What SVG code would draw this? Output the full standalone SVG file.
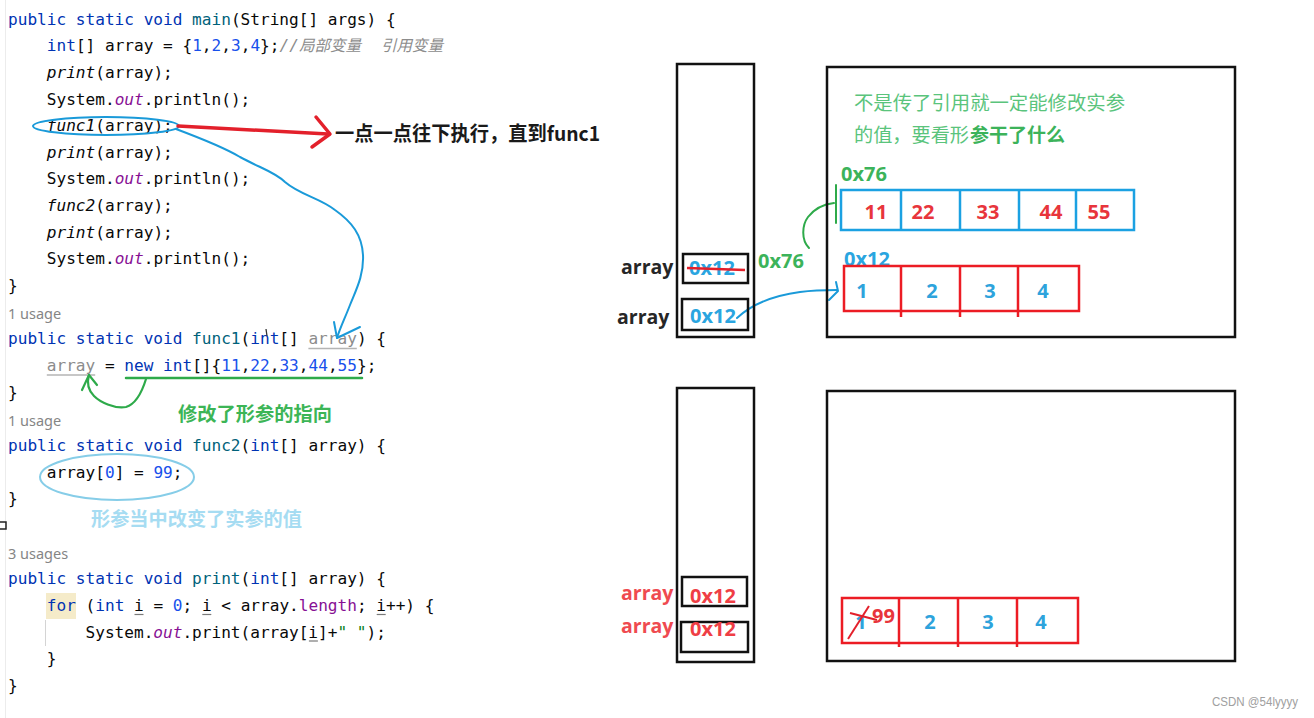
<svg xmlns="http://www.w3.org/2000/svg" width="1314" height="718" viewBox="0 0 1314 718">
<style>
.code{font-family:"DejaVu Sans Mono","Liberation Mono",monospace;font-size:16.1px;fill:#080808}
.kw{fill:#0033b3}
.fn{fill:#00627a}
.num{fill:#1750eb}
.it{font-style:italic}
.fld{fill:#871094;font-style:italic}
.len{fill:#871094}
.str{fill:#067d17}
.gr{fill:#8c8c8c}
.cm{fill:#8c8c8c;font-style:italic}
.cmc{font-family:"Noto Sans CJK SC",sans-serif;font-size:15.5px;fill:#8c8c8c;font-style:italic}
.hint{font-family:"Noto Sans",sans-serif;font-size:14.5px;fill:#858585}
.cjk{font-family:"Noto Sans CJK SC",sans-serif}
.lbl{font-family:"Open Sans","Noto Sans",sans-serif;font-weight:700}
.box{fill:none;stroke:#111;stroke-width:2.5}
.cb{fill:none;stroke:#1ba1e2;stroke-width:2.5}
.cr{fill:none;stroke:#ec1c24;stroke-width:2.5}
.ul{stroke:#b4b4b4;stroke-width:1.3}
.ui{stroke:#7a7a7a;stroke-width:1.2}
</style>
<rect width="1314" height="718" fill="#ffffff"/>
<g id="code">
<line x1="5.5" y1="0" x2="5.5" y2="718" stroke="#ececec" stroke-width="1"/>
<rect x="-2" y="522" width="8" height="7" fill="none" stroke="#222" stroke-width="1.5"/>
<rect x="46" y="593" width="30" height="26" fill="#f5ebc9"/>
<line x1="45.5" y1="620" x2="45.5" y2="646" stroke="#d4d4d4" stroke-width="1"/>
<text class="code" x="8" y="24.5"><tspan class="kw">public static void </tspan><tspan class="fn">main</tspan>(String[] args) {</text>
<text class="code" x="46.8" y="51.2"><tspan class="kw">int</tspan>[] array = {<tspan class="num">1</tspan>,<tspan class="num">2</tspan>,<tspan class="num">3</tspan>,<tspan class="num">4</tspan>};<tspan class="cm">//</tspan></text>
<text class="cmc" x="299" y="51.2">局部变量</text>
<text class="cmc" x="381" y="51.2">引用变量</text>
<text class="code" x="46.8" y="77.8"><tspan class="it">print</tspan>(array);</text>
<text class="code" x="46.8" y="104.5">System.<tspan class="fld">out</tspan>.println();</text>
<text class="code" x="46.8" y="131.1"><tspan class="it">func1</tspan>(array);</text>
<text class="code" x="46.8" y="157.8"><tspan class="it">print</tspan>(array);</text>
<text class="code" x="46.8" y="184.4">System.<tspan class="fld">out</tspan>.println();</text>
<text class="code" x="46.8" y="211.1"><tspan class="it">func2</tspan>(array);</text>
<text class="code" x="46.8" y="237.7"><tspan class="it">print</tspan>(array);</text>
<text class="code" x="46.8" y="264.4">System.<tspan class="fld">out</tspan>.println();</text>
<text class="code" x="8" y="291">}</text>
<text class="hint" x="8" y="319">1 usage</text>
<text class="code" x="8" y="344.3"><tspan class="kw">public static void </tspan><tspan class="fn">func1</tspan>(<tspan class="kw">int</tspan>[] <tspan class="gr">array</tspan>) {</text>
<line class="ul" x1="308.4" y1="348.5" x2="356.8" y2="348.5"/>
<text class="code" x="46.8" y="371"><tspan class="gr">array</tspan> = <tspan class="kw">new int</tspan>[]{<tspan class="num">11</tspan>,<tspan class="num">22</tspan>,<tspan class="num">33</tspan>,<tspan class="num">44</tspan>,<tspan class="num">55</tspan>};</text>
<line class="ul" x1="46.8" y1="375" x2="95.2" y2="375"/>
<text class="code" x="8" y="397.6">}</text>
<text class="hint" x="8" y="425.5">1 usage</text>
<text class="code" x="8" y="450.9"><tspan class="kw">public static void </tspan><tspan class="fn">func2</tspan>(<tspan class="kw">int</tspan>[] array) {</text>
<text class="code" x="46.8" y="477.6">array[<tspan class="num">0</tspan>] = <tspan class="num">99</tspan>;</text>
<text class="code" x="8" y="504.2">}</text>
<text class="hint" x="8" y="558.5">3 usages</text>
<text class="code" x="8" y="584.2"><tspan class="kw">public static void </tspan><tspan class="fn">print</tspan>(<tspan class="kw">int</tspan>[] array) {</text>
<text class="code" x="46.8" y="610.8"><tspan class="kw">for</tspan> (<tspan class="kw">int</tspan> i = <tspan class="num">0</tspan>; i &lt; array.<tspan class="len">length</tspan>; i++) {</text>
<line class="ui" x1="134.5" y1="614.5" x2="143.5" y2="614.5"/>
<line class="ui" x1="202.3" y1="614.5" x2="211.3" y2="614.5"/>
<line class="ui" x1="376.7" y1="614.5" x2="385.7" y2="614.5"/>
<text class="code" x="85.5" y="637.5">System.<tspan class="fld">out</tspan>.print(array[i]+<tspan class="str">" "</tspan>);</text>
<line class="ui" x1="308.9" y1="641" x2="317.9" y2="641"/>
<text class="code" x="46.8" y="664.1">}</text>
<text class="code" x="8" y="690.8">}</text>
</g>
<g id="annotations">
<ellipse cx="106" cy="126" rx="73" ry="9" fill="none" stroke="#1a9ad9" stroke-width="2"/>
<text class="cjk" x="335" y="141" font-size="20" font-weight="700" fill="#1a1a1a" textLength="265" lengthAdjust="spacingAndGlyphs">一点一点往下执行，直到func1</text>
<line x1="266" y1="329" x2="267" y2="336" stroke="#333" stroke-width="1.3"/>
<text class="cjk" x="178" y="421" font-size="19" font-weight="700" fill="#3cb556" textLength="154" lengthAdjust="spacingAndGlyphs">修改了形参的指向</text>
<ellipse cx="117" cy="477" rx="77" ry="23" fill="none" stroke="#86cde8" stroke-width="2"/>
<text class="cjk" x="91" y="526" font-size="19" font-weight="700" fill="#a6dcf2" textLength="211" lengthAdjust="spacingAndGlyphs">形参当中改变了实参的值</text>
</g>
<g id="connectors" fill="none" stroke-linecap="round" stroke-linejoin="round">
<path d="M178,126 L328,134" stroke="#e3202b" stroke-width="3.5"/>
<path d="M316,117 L330,134 L312,147" stroke="#e3202b" stroke-width="3.5"/>
<path d="M176,129 C200,138 225,148 240,157 C260,168 275,172 285,182 C300,195 320,198 335,210 C352,222 362,235 363,255 C364,275 356,290 350,305 C345,318 340,328 337,338" stroke="#1a9ad9" stroke-width="2"/>
<path d="M334,322 L337,338 L360,327" stroke="#1a9ad9" stroke-width="2"/>
<line x1="126" y1="378" x2="362" y2="378" stroke="#2eaa4a" stroke-width="2.5"/>
<path d="M146,379 C142,392 136,404 126,407 C114,409 100,402 94,396 C88,390 87,382 89,375" stroke="#2eaa4a" stroke-width="2.2"/>
<path d="M82,390 L89,375 L97,385" stroke="#2eaa4a" stroke-width="2.2"/>
<path d="M809,248 C801,240 802,225 808,217 C815,208 825,204 834,203" stroke="#2eaa4a" stroke-width="2"/>
<line x1="836" y1="185" x2="836" y2="223" stroke="#2eaa4a" stroke-width="2"/>
<path d="M737,318 C750,306 770,296 800,292 C815,290 828,290 837,290" stroke="#1a9ad9" stroke-width="2"/>
<path d="M836,282 L838,291 L829,300" stroke="#1a9ad9" stroke-width="2"/>
</g>
<g id="stack-top">
<rect class="box" x="677" y="64" width="77" height="273"/>
<rect class="box" x="683" y="254" width="65" height="29"/>
<rect class="box" x="682" y="299" width="66" height="31"/>
<text class="lbl" x="621" y="274" font-size="19.5" fill="#262626">array</text>
<text class="lbl" x="617" y="324" font-size="19.5" fill="#262626">array</text>
<text class="lbl" x="689" y="275" font-size="20" fill="#2aa5e0">0x12</text>
<line x1="687" y1="268" x2="745" y2="270" stroke="#e3202b" stroke-width="2.5"/>
<text class="lbl" x="690" y="323" font-size="20" fill="#2aa5e0">0x12</text>
<text class="lbl" x="758" y="268" font-size="20" fill="#3cb35a">0x76</text>
</g>
<g id="heap-top">
<rect class="box" x="827" y="67" width="408" height="270"/>
<text class="cjk" x="854" y="110" font-size="19" fill="#5ac47c" textLength="271" lengthAdjust="spacingAndGlyphs">不是传了引用就一定能修改实参</text>
<text class="cjk" x="854" y="142" font-size="19" fill="#5ac47c" textLength="115" lengthAdjust="spacingAndGlyphs">的值，要看形</text>
<text class="cjk" x="970" y="142" font-size="19" font-weight="700" fill="#3cb35a" textLength="95" lengthAdjust="spacingAndGlyphs">参干了什么</text>
<text class="lbl" x="841" y="181" font-size="20" fill="#3cb35a">0x76</text>
<rect class="cb" x="841" y="190" width="293" height="40"/>
<line class="cb" x1="901" y1="190" x2="901" y2="230"/>
<line class="cb" x1="960" y1="190" x2="960" y2="230"/>
<line class="cb" x1="1019" y1="190" x2="1019" y2="230"/>
<line class="cb" x1="1076" y1="190" x2="1076" y2="230"/>
<g class="lbl" font-size="20" fill="#e8353c" text-anchor="middle">
<text x="876" y="219">11</text>
<text x="923" y="219">22</text>
<text x="988" y="219">33</text>
<text x="1051" y="219">44</text>
<text x="1099" y="219">55</text>
</g>
<text class="lbl" x="844" y="266" font-size="20" fill="#2aa5e0">0x12</text>
<rect class="cr" x="844" y="266" width="235" height="45"/>
<line class="cr" x1="901" y1="266" x2="901" y2="317"/>
<line class="cr" x1="960" y1="266" x2="960" y2="317"/>
<line class="cr" x1="1018" y1="266" x2="1018" y2="317"/>
<g class="lbl" font-size="20" fill="#2ea3dc" text-anchor="middle">
<text x="862" y="298">1</text>
<text x="932" y="298">2</text>
<text x="990" y="298">3</text>
<text x="1043" y="298">4</text>
</g>
</g>
<g id="stack-bottom">
<rect class="box" x="677" y="388" width="77" height="274"/>
<rect class="box" x="682" y="577" width="65" height="29"/>
<rect class="box" x="681" y="622" width="67" height="30"/>
<text class="lbl" x="621" y="600" font-size="19.5" fill="#ef4a50">array</text>
<text class="lbl" x="621" y="633" font-size="19.5" fill="#ef4a50">array</text>
<text class="lbl" x="690" y="603" font-size="20" fill="#ef3e45">0x12</text>
<text class="lbl" x="690" y="636" font-size="20" fill="#ef3e45">0x12</text>
</g>
<g id="heap-bottom">
<rect class="box" x="827" y="391" width="408" height="270"/>
<rect class="cr" x="842" y="598" width="236" height="45"/>
<line class="cr" x1="899" y1="598" x2="899" y2="647"/>
<line class="cr" x1="958" y1="598" x2="958" y2="647"/>
<line class="cr" x1="1017" y1="598" x2="1017" y2="647"/>
<g class="lbl" font-size="20" fill="#2ea3dc" text-anchor="middle">
<text x="861" y="629">1</text>
<text x="930" y="629">2</text>
<text x="988" y="629">3</text>
<text x="1041" y="629">4</text>
</g>
<text class="lbl" x="872" y="623" font-size="20" fill="#e8353c">99</text>
<line x1="848" y1="639" x2="869" y2="606" stroke="#e3202b" stroke-width="2"/>
<line x1="850" y1="613" x2="877" y2="620" stroke="#e3202b" stroke-width="2"/>
</g>
<text x="1212" y="706" font-family="Liberation Sans, sans-serif" font-size="12.5" fill="#a0a0a0" textLength="86" lengthAdjust="spacingAndGlyphs">CSDN @54lyyyy</text>
</svg>
